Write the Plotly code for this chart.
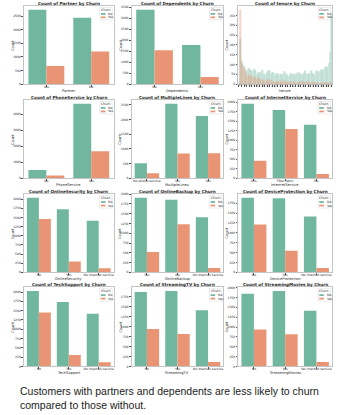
import plotly.graph_objects as go

# ---- data: customer counts per category, split by churn status ----
partner_cats = ["Yes", "No"]
partner_no = [2733, 2441]
partner_yes = [669, 1200]

dependents_cats = ["No", "Yes"]
dependents_no = [3390, 1784]
dependents_yes = [1543, 326]

tenure_cats = list(range(73))
tenure_no = [11, 233, 115, 106, 93, 69, 70, 80, 81, 73, 71, 68, 79, 71, 52, 62, 52, 61, 73, 54,
             53, 50, 63, 72, 71, 56, 64, 59, 45, 57, 56, 50, 50, 50, 52, 67, 40, 55, 46, 42,
             52, 57, 52, 51, 43, 55, 62, 53, 55, 48, 56, 59, 70, 52, 55, 55, 70, 54, 56, 49,
             70, 68, 65, 68, 76, 67, 76, 87, 91, 87, 108, 164, 356]
tenure_yes = [0, 380, 123, 94, 83, 64, 40, 51, 42, 46, 45, 31, 38, 38, 24, 37, 28, 26, 24, 19,
              18, 13, 27, 13, 23, 23, 15, 13, 12, 15, 16, 15, 19, 14, 13, 21, 10, 10, 13, 14,
              12, 13, 13, 14, 8, 6, 12, 15, 9, 18, 12, 9, 10, 18, 13, 9, 10, 11, 11, 11,
              6, 8, 5, 4, 4, 9, 13, 11, 9, 8, 11, 6, 6]

phone_cats = ["No", "Yes"]
phone_no = [512, 4662]
phone_yes = [170, 1699]

multilines_cats = ["No phone service", "No", "Yes"]
multilines_no = [512, 2541, 2121]
multilines_yes = [170, 849, 850]

internet_cats = ["DSL", "Fiber optic", "No"]
internet_no = [1962, 1799, 1413]
internet_yes = [459, 1297, 113]

security_cats = ["No", "Yes", "No internet service"]
security_no = [2037, 1724, 1413]
security_yes = [1461, 295, 113]

backup_cats = ["Yes", "No", "No internet service"]
backup_no = [1906, 1855, 1413]
backup_yes = [523, 1233, 113]

protection_cats = ["No", "Yes", "No internet service"]
protection_no = [1884, 1877, 1413]
protection_yes = [1211, 545, 113]

techsupport_cats = ["No", "Yes", "No internet service"]
techsupport_no = [2027, 1734, 1413]
techsupport_yes = [1446, 310, 113]

streamtv_cats = ["No", "Yes", "No internet service"]
streamtv_no = [1868, 1893, 1413]
streamtv_yes = [942, 814, 113]

movies_cats = ["No", "Yes", "No internet service"]
movies_no = [1847, 1914, 1413]
movies_yes = [938, 818, 113]

churn_labels = ["No", "Yes"]
caption = ("Customers with partners and dependents are less likely to churn<br>"
           "compared to those without.")

panels = [
    ("Partner", partner_cats, partner_no, partner_yes, 500),
    ("Dependents", dependents_cats, dependents_no, dependents_yes, 500),
    ("tenure", tenure_cats, tenure_no, tenure_yes, 50),
    ("PhoneService", phone_cats, phone_no, phone_yes, 1000),
    ("MultipleLines", multilines_cats, multilines_no, multilines_yes, 500),
    ("InternetService", internet_cats, internet_no, internet_yes, 250),
    ("OnlineSecurity", security_cats, security_no, security_yes, 250),
    ("OnlineBackup", backup_cats, backup_no, backup_yes, 250),
    ("DeviceProtection", protection_cats, protection_no, protection_yes, 250),
    ("TechSupport", techsupport_cats, techsupport_no, techsupport_yes, 250),
    ("StreamingTV", streamtv_cats, streamtv_no, streamtv_yes, 250),
    ("StreamingMovies", movies_cats, movies_no, movies_yes, 250),
]

# ---- layout geometry (pixels) ----
W, H = 340, 415
col_px = [(23, 113), (131, 223), (238, 332)]
row_px = [(4, 83), (99, 178), (194, 273), (288, 368)]

GREEN = "#71b7a0"
ORANGE = "#e99575"
SPINE = "#c4c4c4"
TXT = "#262626"
FONT = "DejaVu Sans"


def xp(v):
    return v / W


def yp(v):
    return 1 - v / H


fig = go.Figure()
shapes = []
annotations = []

for i, (name, cats, no_vals, yes_vals, dtick) in enumerate(panels):
    r, c = divmod(i, 3)
    L, R = col_px[c]
    T, B = row_px[r]
    idx = "" if i == 0 else str(i + 1)
    xa, ya = "x" + idx, "y" + idx
    xcats = [str(v) for v in cats]
    is_tenure = name == "tenure"

    for vals, color, lab in ((no_vals, GREEN, churn_labels[0]), (yes_vals, ORANGE, churn_labels[1])):
        if is_tenure:
            fig.add_trace(go.Bar(x=xcats, y=vals, marker=dict(color=color, line=dict(width=0)),
                                 opacity=0.42, width=0.8, offset=-0.4, name=lab,
                                 showlegend=False, xaxis=xa, yaxis=ya))
        else:
            fig.add_trace(go.Bar(x=xcats, y=vals, marker=dict(color=color, line=dict(width=0)),
                                 name=lab, showlegend=False, xaxis=xa, yaxis=ya))

    ymax = max(max(no_vals), max(yes_vals)) * 1.05
    axis_common = dict(showline=True, mirror=True, linecolor=SPINE, linewidth=1,
                       showgrid=False, zeroline=False, ticks="outside", ticklen=1.5,
                       tickwidth=0.5, tickcolor="#555")
    fig.layout["xaxis" + idx] = dict(
        domain=[xp(L), xp(R)], anchor=ya, type="category",
        range=[-0.5, len(cats) - 0.5],
        tickfont=dict(size=2.0 if is_tenure else 3.2, color=TXT, family=FONT),
        tickangle=-90 if is_tenure else 0,
        ticklabelstandoff=-3,
        **axis_common)
    fig.layout["yaxis" + idx] = dict(
        domain=[yp(B), yp(T)], anchor=xa, range=[0, ymax], dtick=dtick, tickformat="d",
        tickfont=dict(size=3.0, color=TXT, family=FONT),
        **axis_common)

    # axis titles
    annotations.append(dict(text=name, xref="paper", yref="paper", x=xp((L + R) / 2),
                            y=yp(B + 7.0), xanchor="center", yanchor="middle", showarrow=False,
                            font=dict(size=3.6, color=TXT, family=FONT)))
    annotations.append(dict(text="Count", xref="paper", yref="paper", x=xp(L - 11),
                            y=yp((T + B) / 2), xanchor="center", yanchor="middle", textangle=-90,
                            showarrow=False, font=dict(size=3.6, color=TXT, family=FONT)))

    # subplot title
    annotations.append(dict(text=f"<b>Count of {name} by Churn</b>", xref="paper", yref="paper",
                            x=xp((L + R) / 2), y=yp(T - 2.3), xanchor="center", yanchor="middle",
                            showarrow=False, font=dict(size=4.2, color=TXT, family=FONT)))

    # per-panel legend box
    lx0, lx1 = R - 14, R - 1.5
    ly0, ly1 = T + 1.5, T + 14
    shapes.append(dict(type="rect", xref="paper", yref="paper", x0=xp(lx0), x1=xp(lx1),
                       y0=yp(ly1), y1=yp(ly0), line=dict(color="#d6d6d6", width=0.5),
                       fillcolor="rgba(255,255,255,0.85)", layer="above"))
    annotations.append(dict(text="Churn", xref="paper", yref="paper", x=xp((lx0 + lx1) / 2),
                            y=yp(T + 4.3), xanchor="center", yanchor="middle", showarrow=False,
                            font=dict(size=3.2, color=TXT, family=FONT)))
    for k, (color, lab) in enumerate(((GREEN, churn_labels[0]), (ORANGE, churn_labels[1]))):
        cy = T + 8.0 + k * 3.5
        shapes.append(dict(type="rect", xref="paper", yref="paper", x0=xp(lx0 + 1.2),
                           x1=xp(lx0 + 5.8), y0=yp(cy + 0.9), y1=yp(cy - 0.9),
                           line=dict(width=0), fillcolor=color, layer="above"))
        annotations.append(dict(text=lab, xref="paper", yref="paper", x=xp(lx0 + 6.6),
                                y=yp(cy), xanchor="left", yanchor="middle", showarrow=False,
                                font=dict(size=3.2, color=TXT, family=FONT)))

annotations.append(dict(text=caption, xref="paper", yref="paper", x=xp(17), y=yp(385),
                        xanchor="left", yanchor="top", align="left", showarrow=False,
                        font=dict(size=10.5, color="#222222", family="Liberation Sans")))

fig.update_layout(
    width=W, height=H, margin=dict(l=0, r=0, t=0, b=0),
    paper_bgcolor="white", plot_bgcolor="white",
    barmode="group", bargap=0.2, bargroupgap=0,
    shapes=shapes, annotations=annotations, showlegend=False,
)

fig.write_html("out.html")
